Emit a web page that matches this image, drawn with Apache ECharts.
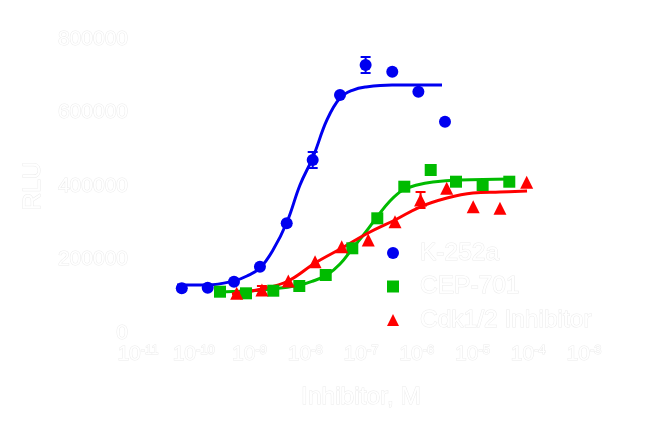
<!DOCTYPE html>
<html><head><meta charset="utf-8">
<script src="https://cdn.jsdelivr.net/npm/echarts@6/dist/echarts.min.js"></script>
<style>html,body{margin:0;padding:0;background:#fff}#c{width:650px;height:429px}</style>
</head><body><div id="c"></div>
<script>
// ---- data (concentration in M, signal in RLU) ----
const xTickExponents = [-11, -10, -9, -8, -7, -6, -5, -4, -3];
const yTicks = [0, 200000, 400000, 600000, 800000];
const seriesNames = ['K-252a', 'CEP-701', 'Cdk1/2 Inhibitor'];

const k252aConc = [6.1e-11, 1.78e-10, 5.27e-10, 1.54e-9, 4.65e-9, 1.36e-8, 4.2e-8, 1.21e-7, 3.64e-7, 1.07e-6, 3.21e-6];
const k252aRLU  = [121600, 123300, 139600, 180400, 298500, 470700, 647600, 729200, 711000, 656600, 575000];
const k252aErr  = [0, 0, 0, 0, 0, 21800, 0, 21800, 0, 0, 0];

const cepConc = [2.96e-10, 8.65e-10, 2.67e-9, 7.82e-9, 2.33e-8, 6.98e-8, 1.96e-7, 5.98e-7, 1.78e-6, 5.06e-6, 1.52e-5, 4.57e-5];
const cepRLU  = [112400, 108000, 115100, 127900, 157800, 230500, 312100, 398100, 443500, 411700, 402700, 411700];
const cepErr  = [0, 0, 0, 0, 0, 0, 0, 0, 0, 0, 0, 0];

const cdkConc = [5.89e-10, 1.67e-9, 4.97e-9, 1.50e-8, 4.51e-8, 1.35e-7, 4.07e-7, 1.17e-6, 3.44e-6, 1.03e-5, 3.11e-5, 9.38e-5];
const cdkRLU  = [108000, 117000, 141500, 194000, 234800, 253100, 302800, 361900, 393700, 343700, 339300, 410000];
const cdkErr  = [0, 10900, 0, 0, 0, 0, 0, 21800, 0, 0, 0, 0];

// fitted curves
const k252aFitConc = [5.01e-11, 1.80e-10, 5.27e-10, 9.0e-10, 1.54e-9, 2.64e-9, 4.71e-9, 8.05e-9, 1.38e-8, 2.45e-8, 4.2e-8, 7.2e-8, 1.23e-7, 3.6e-7, 2.84e-6];
const k252aFitRLU  = [130600, 130600, 141500, 155100, 176900, 225800, 302000, 402700, 478900, 579600, 639400, 661200, 669400, 674800, 674800];

const cepFitConc = [2.72e-10, 8.65e-10, 2.64e-9, 8.05e-9, 1.38e-8, 2.45e-8, 4.2e-8, 6.9e-8, 1.18e-7, 1.94e-7, 3.31e-7, 5.66e-7, 1.01e-6, 1.95e-6, 5.97e-6, 4.71e-5];
const cepFitRLU  = [111600, 114300, 119700, 130600, 141500, 157800, 187700, 228600, 272100, 315600, 359200, 389100, 402700, 410900, 416300, 419000];

const cdkFitConc = [4.85e-10, 1.67e-9, 4.91e-9, 1.50e-8, 4.56e-8, 1.34e-7, 4.07e-7, 1.14e-6, 3.49e-6, 1.02e-5, 3.11e-5, 9.51e-5];
const cdkFitRLU  = [106100, 119700, 141500, 190500, 231300, 272100, 307500, 342800, 367300, 380900, 383700, 386400];

const colors = ['#0000f0', '#00bb00', '#ff0000'];
const symbols = ['circle', 'rect', 'triangle'];

// ---- build options ----
const zip = (a, b) => a.map((v, i) => [v, b[i]]);
const ghostText = { color: '#ffffff', textBorderColor: '#ebebeb', textBorderWidth: 1, fontFamily: 'Liberation Sans', fontSize: 21 };
const bigGhost = Object.assign({}, ghostText, { fontSize: 24.5 });

const pts = [zip(k252aConc, k252aRLU), zip(cepConc, cepRLU), zip(cdkConc, cdkRLU)];
const fits = [zip(k252aFitConc, k252aFitRLU), zip(cepFitConc, cepFitRLU), zip(cdkFitConc, cdkFitRLU)];
const errs = [[k252aConc, k252aRLU, k252aErr], [cepConc, cepRLU, cepErr], [cdkConc, cdkRLU, cdkErr]];

const series = [];
fits.forEach((d, i) => series.push({
  type: 'line', name: seriesNames[i] + ' fit', data: d, smooth: 0.4, showSymbol: false,
  lineStyle: { color: colors[i], width: 3 }, z: 2, silent: true
}));
errs.forEach((e, i) => {
  const data = [];
  e[0].forEach((c, j) => { if (e[2][j] > 0) data.push([c, e[1][j] - e[2][j], e[1][j] + e[2][j]]); });
  series.push({
    type: 'custom', name: seriesNames[i] + ' err', data, z: 3,
    renderItem: (params, api) => {
      const lo = api.coord([api.value(0), api.value(1)]);
      const hi = api.coord([api.value(0), api.value(2)]);
      const w = 5;
      const st = { stroke: colors[i], lineWidth: 2 };
      return { type: 'group', children: [
        { type: 'line', shape: { x1: lo[0], y1: lo[1], x2: hi[0], y2: hi[1] }, style: st },
        { type: 'line', shape: { x1: lo[0] - w, y1: lo[1], x2: lo[0] + w, y2: lo[1] }, style: st },
        { type: 'line', shape: { x1: hi[0] - w, y1: hi[1], x2: hi[0] + w, y2: hi[1] }, style: st }
      ]};
    }
  });
});
pts.forEach((d, i) => series.push({
  type: 'scatter', name: seriesNames[i], data: d, symbol: symbols[i],
  symbolSize: i === 2 ? 13 : 12, itemStyle: { color: colors[i], opacity: 1 }, z: 4
}));

const chart = echarts.init(document.getElementById('c'), null, { renderer: 'canvas' });
chart.setOption({
  backgroundColor: '#ffffff',
  animation: false,
  grid: { left: 138, right: 66, top: 39, bottom: 96, containLabel: false },
  xAxis: {
    type: 'log', logBase: 10, min: Math.pow(10, xTickExponents[0]), max: Math.pow(10, xTickExponents[xTickExponents.length - 1]),
    interval: 1,
    name: 'Inhibitor, M', nameLocation: 'middle', nameGap: 52, nameTextStyle: bigGhost,
    axisLine: { show: false }, axisTick: { show: false }, splitLine: { show: false },
    axisLabel: {
      margin: 11,
      formatter: v => { const e = Math.round(Math.log10(v)); return xTickExponents.includes(e) ? '{b|10}{s|' + e + '}' : ''; },
      rich: {
        b: Object.assign({}, ghostText, { fontSize: 21 }),
        s: Object.assign({}, ghostText, { fontSize: 13, verticalAlign: 'top', padding: [0, 0, 8, 0] })
      }
    }
  },
  yAxis: {
    type: 'value', min: yTicks[0], max: yTicks[yTicks.length - 1], interval: yTicks[1] - yTicks[0],
    name: 'RLU', nameLocation: 'middle', nameGap: 84, nameTextStyle: bigGhost,
    axisLine: { show: false }, axisTick: { show: false }, splitLine: { show: false },
    axisLabel: Object.assign({ margin: 10, formatter: v => String(v) }, ghostText)
  },
  legend: {
    data: seriesNames, orient: 'vertical', left: 382, top: 235, itemWidth: 12, itemHeight: 12, itemGap: 7.5,
    textStyle: Object.assign({ padding: [0, 0, 0, 16] }, bigGhost)
  },
  series
});
</script>
</body></html>
